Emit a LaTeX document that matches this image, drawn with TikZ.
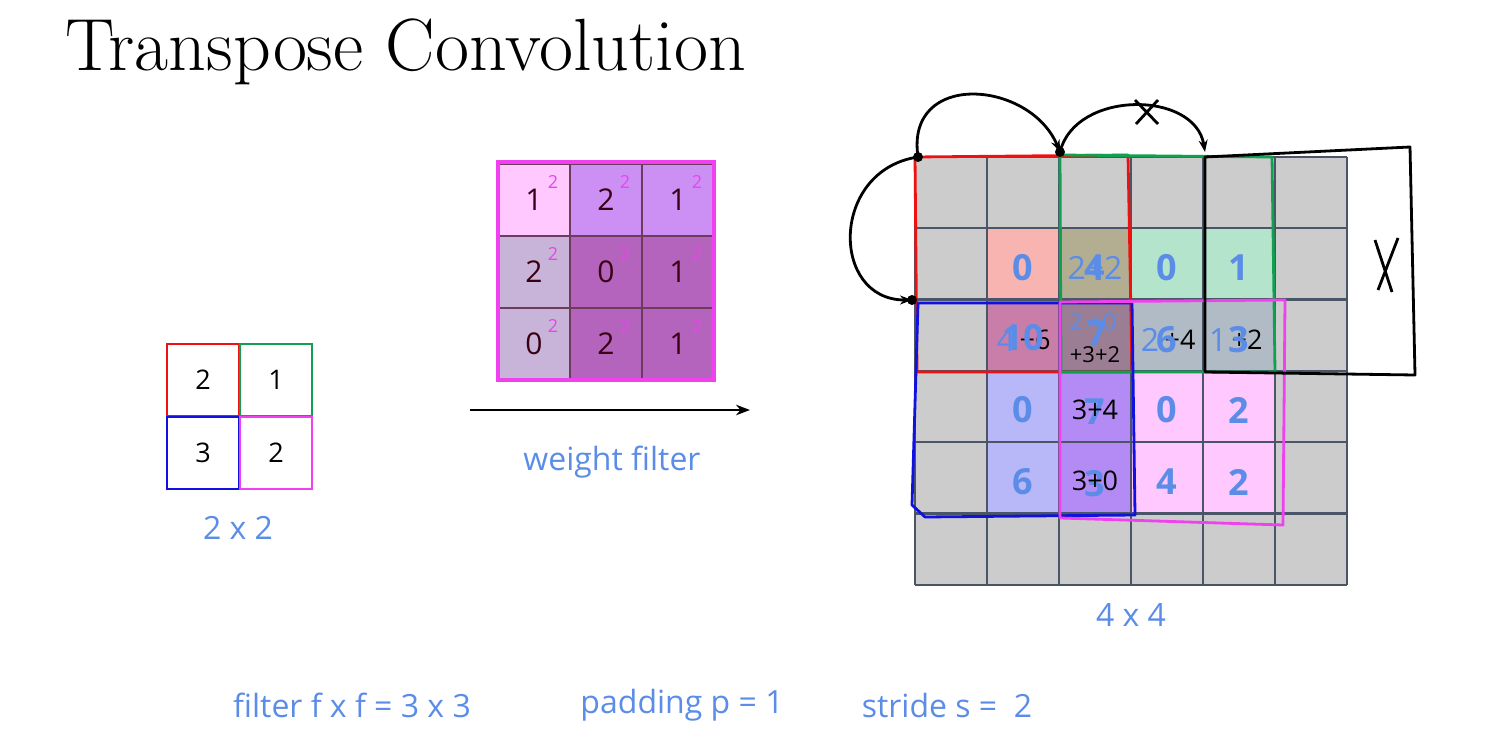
\documentclass[tikz,border=0pt]{standalone}
\usepackage{fontspec}
\setmainfont{Latin Modern Roman}
\newfontfamily\sansf{Open Sans}
\usetikzlibrary{arrows.meta}
\definecolor{lblue}{HTML}{5B8DE8}
\definecolor{gline}{HTML}{4A5568}
\definecolor{myred}{HTML}{F01010}
\definecolor{mygreen}{HTML}{10A050}
\definecolor{myblue}{HTML}{1010E0}
\definecolor{mymag}{HTML}{F040F0}
\begin{document}
\begin{tikzpicture}[x=0.5pt,y=-0.5pt,
  lab/.style={font=\sansf\fontsize{16}{18}\selectfont,text=lblue},
  num/.style={font=\sansf\fontsize{13.5}{15}\selectfont},
  big/.style={font=\sansf\bfseries\fontsize{18}{20}\selectfont,text=lblue},
  sm/.style={font=\sansf\fontsize{11}{13}\selectfont},
  hand/.style={line width=1.4pt,line join=round}]
\useasboundingbox (0,0) rectangle (1487,743);
\node[anchor=west,font=\fontsize{37}{40}\selectfont] (title) at (58,52) {Transpose Convolution};
% 2x2 input
\node[num,draw=myred,line width=1.3pt,minimum size=36pt,inner sep=0] (i1) at (203,380) {2};
\node[num,draw=mygreen,line width=1.3pt,minimum size=36pt,inner sep=0] (i2) at (276,380) {1};
\node[num,draw=myblue,line width=1.3pt,minimum size=36pt,inner sep=0] (i3) at (203,453) {3};
\node[num,draw=mymag,line width=1.3pt,minimum size=36pt,inner sep=0] (i4) at (276,453) {2};
\node[lab] (l22) at (238,528) {2 x 2};
% filter
\foreach \r/\c/\v/\col in {0/0/1/FFC8FF,0/1/2/CC90F4,0/2/1/CC90F4,1/0/2/C8B4D8,1/1/0/B464BC,1/2/1/B464BC,2/0/0/C8B4D8,2/1/2/B464BC,2/2/1/B464BC}{
  \definecolor{cc}{HTML}{\col}
  \node[num,font=\sansf\fontsize{15}{17}\selectfont,fill=cc,draw=gline!70!purple,line width=0.8pt,minimum size=36pt,inner sep=0,text=black!70!purple] (f\r\c) at (534+72*\c,200+72*\r) {\v};
  \node[sm,font=\sansf\fontsize{9}{11}\selectfont,text=mymag] (s\r\c) at (553+72*\c,182+72*\r) {2};
}
\draw[mymag,line width=1.8pt] (498,162) rectangle (714,380);
\coordinate (a1) at (470,410); \coordinate (a2) at (750,410);
\draw[line width=1.3pt,-{Stealth[length=7pt]}] (a1) -- (a2);
\node[lab] (wf) at (612,462) {weight filter};
% grid
\fill[black!20] (915,157) rectangle (1347,585);
\foreach \r/\c/\col in {1/1/F8B4B0,1/2/B3AE92,1/3/B4E4CC,1/4/B4E4CC,2/1/C97EAA,2/2/9B7E93,2/3/B1BBC6,2/4/B1BBC6,3/1/B8B8F8,3/2/B48AF4,3/3/FFC8FF,3/4/FFC8FF,4/1/B8B8F8,4/2/B48AF4,4/3/FFC8FF,4/4/FFC8FF}{
  \definecolor{cc}{HTML}{\col}
  \fill[cc] (915+72*\c,157+71.3*\r) rectangle ++(72,71.3);
}
\foreach \i in {0,...,6}{
  \draw[gline,line width=1.2pt] (915+72*\i,157) -- (915+72*\i,585);
  \draw[gline,line width=1.2pt] (915,157+71.3*\i) -- (1347,157+71.3*\i);
}
% cell texts
\node[big] (g11) at (1023,268) {0};
\node[lab] (g12a) at (1095,268) {2+2};
\node[big] (g12) at (1095,268) {4};
\node[big] (g13) at (1167,268) {0};
\node[big] (g14) at (1239,268) {1};
\node[lab] (g21a) at (1006,340) {4};
\node[num] (g21b) at (1035,340) {+6};
\node[big] (g21) at (1023,338) {10};
\node[lab,font=\sansf\fontsize{12}{14}\selectfont] (g22a) at (1093,322) {2 +0};
\node[big] (g22) at (1097,334) {7};
\node[sm] (g22b) at (1095,355) {+3+2};
\node[lab] (g23a) at (1150,340) {2};
\node[num] (g23b) at (1180,340) {+4};
\node[big] (g23) at (1167,340) {6};
\node[lab] (g24a) at (1218,340) {1};
\node[num] (g24b) at (1247,340) {+2};
\node[big] (g24) at (1239,340) {3};
\node[big] (g31) at (1023,410) {0};
\node[big] (g32) at (1095,412) {7};
\node[num] (g32b) at (1095,410) {3+4};
\node[big] (g33) at (1167,410) {0};
\node[big] (g34) at (1239,410) {2};
\node[big] (g41) at (1023,482) {6};
\node[big] (g42) at (1095,484) {3};
\node[num] (g42b) at (1095,481) {3+0};
\node[big] (g43) at (1167,482) {4};
\node[big] (g44) at (1239,482) {2};
% hand boxes
\draw[hand,myred] (915,157) -- (1128,155) -- (1132,372) -- (917,372) -- cycle;
\draw[hand,mygreen] (1060,155) -- (1272,157) -- (1275,372) -- (1061,372) -- cycle;
\draw[hand,myblue] (918,303) -- (1132,303) -- (1135,515) -- (925,517) -- (912,505) -- cycle;
\draw[hand,mymag] (1060,302) -- (1285,300) -- (1283,525) -- (1060,518) -- cycle;
\draw[hand,black] (1205,157) -- (1410,147) -- (1415,375) -- (1205,372) -- cycle;
\draw[hand,black] (1375,240) -- (1392,292) (1398,238) -- (1378,290);
% jumps
\coordinate (p1) at (918,157); \coordinate (p2) at (1060,152); \coordinate (p3) at (1205,152); \coordinate (p4) at (912,300);
\fill (p1) circle (5); \fill (p2) circle (5); \fill (p4) circle (5);
\draw[hand,-{Stealth[length=6pt]}] (p1) .. controls (905,70) and (1030,80) .. (p2);
\draw[hand,-{Stealth[length=6pt]}] (p2) .. controls (1075,90) and (1195,90) .. (p3);
\draw[hand] (1135,100) -- (1158,124) (1158,100) -- (1136,124);
\draw[hand,-{Stealth[length=6pt]}] (p1) .. controls (830,170) and (830,300) .. (p4);
\node[lab] (l44) at (1131,615) {4 x 4};
\node[lab] (b1) at (352,705) {filter f x f = 3 x 3};
\node[lab] (b2) at (682,705) {padding p = 1};
\node[lab] (b3) at (947,705) {stride s =\ \ 2};
\end{tikzpicture}
\end{document}
